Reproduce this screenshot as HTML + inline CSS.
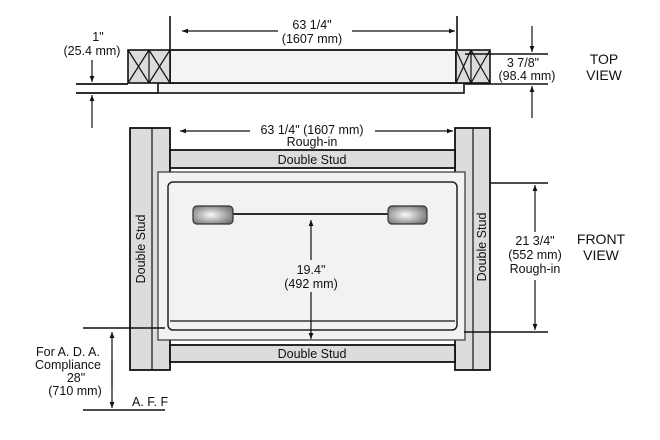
<!DOCTYPE html>
<html><head><meta charset="utf-8"><style>
html,body{margin:0;padding:0;background:#fff}
text{font-family:"Liberation Sans",Arial,sans-serif;fill:#111}
</style></head><body>
<svg width="660" height="435" viewBox="0 0 660 435" xmlns="http://www.w3.org/2000/svg">
<defs>
<marker id="a" viewBox="0 0 10 10" refX="10" refY="5" markerWidth="7" markerHeight="5" orient="auto-start-reverse"><path d="M0,1 L10,5 L0,9 Z" fill="#111"/></marker>
<radialGradient id="g" cx="0.45" cy="0.5" r="0.6"><stop offset="0" stop-color="#fafafa"/><stop offset="1" stop-color="#777"/></radialGradient>
</defs>
<g stroke="#111" fill="none" stroke-width="1.2">
<!-- TOP VIEW -->
<line x1="170" y1="16" x2="170" y2="49" stroke-width="1.6"/>
<line x1="457" y1="16" x2="457" y2="49" stroke-width="1.6"/>
<line x1="182" y1="31" x2="278" y2="31" marker-start="url(#a)"/>
<line x1="352" y1="31" x2="455" y2="31" marker-end="url(#a)"/>
<rect x="158" y="83" width="306" height="10" fill="#f4f4f4" stroke-width="1.6"/>
<rect x="170" y="50" width="286" height="33" fill="#f4f4f4" stroke-width="1.8"/>
<rect x="128" y="50" width="42" height="33" fill="#dcdcdc" stroke-width="1.6"/>
<line x1="149" y1="50" x2="149" y2="83"/>
<path d="M128,50 L149,83 M149,50 L128,83 M149,50 L170,83 M170,50 L149,83"/>
<rect x="456" y="50" width="34" height="33" fill="#dcdcdc" stroke-width="1.6"/>
<line x1="471" y1="50" x2="471" y2="83"/>
<path d="M456,50 L471,83 M471,50 L456,83 M471,50 L490,83 M490,50 L471,83"/>
<line x1="76" y1="84" x2="128" y2="84" stroke-width="1.8"/>
<line x1="76" y1="93" x2="158" y2="93" stroke-width="1.8"/>
<line x1="92" y1="60" x2="92" y2="82" marker-end="url(#a)"/>
<line x1="92" y1="128" x2="92" y2="95" marker-end="url(#a)"/>
<line x1="465" y1="54" x2="548" y2="54" stroke-width="1.6"/>
<line x1="465" y1="84" x2="548" y2="84" stroke-width="1.6"/>
<line x1="532" y1="26" x2="532" y2="52" marker-end="url(#a)"/>
<line x1="532" y1="118" x2="532" y2="86" marker-end="url(#a)"/>
<!-- FRONT VIEW -->
<rect x="130" y="128" width="40" height="242" fill="#dcdcdc" stroke-width="1.8"/>
<line x1="152" y1="128" x2="152" y2="370"/>
<rect x="455" y="128" width="35" height="242" fill="#dcdcdc" stroke-width="1.8"/>
<line x1="473" y1="128" x2="473" y2="370"/>
<rect x="170" y="150" width="285" height="18" fill="#dcdcdc" stroke-width="1.8"/>
<rect x="170" y="345" width="285" height="17" fill="#dcdcdc" stroke-width="1.8"/>
<rect x="158" y="172" width="307" height="168" fill="#f2f2f2" stroke="#333"/>
<rect x="168" y="182" width="289" height="148" rx="5" fill="#f2f2f2" stroke="#222" stroke-width="1.5"/>
<line x1="170" y1="321" x2="455" y2="321"/>
<line x1="233" y1="214" x2="388" y2="214" stroke-width="1.8"/>
<rect x="193" y="206" width="40" height="18" rx="4" fill="url(#g)" stroke="#333"/>
<rect x="388" y="206" width="39" height="18" rx="4" fill="url(#g)" stroke="#333"/>
<line x1="311" y1="260" x2="311" y2="220" marker-end="url(#a)"/>
<line x1="311" y1="292" x2="311" y2="339" marker-end="url(#a)"/>
<line x1="180" y1="131" x2="250" y2="131" marker-start="url(#a)"/>
<line x1="375" y1="131" x2="453" y2="131" marker-end="url(#a)"/>
<line x1="83" y1="328" x2="165" y2="328" stroke-width="1.6"/>
<line x1="83" y1="410" x2="165" y2="410" stroke-width="1.6"/>
<line x1="464" y1="332" x2="548" y2="332" stroke-width="1.6"/>
<line x1="490" y1="183" x2="548" y2="183" stroke-width="1.6"/>
<line x1="535" y1="232" x2="535" y2="185" marker-end="url(#a)"/>
<line x1="535" y1="280" x2="535" y2="330" marker-end="url(#a)"/>
<line x1="112" y1="386" x2="112" y2="332" marker-end="url(#a)"/>
<line x1="112" y1="360" x2="112" y2="408" marker-end="url(#a)"/>
</g>
<g font-size="12.5" text-anchor="middle">
<text x="312" y="29">63 1/4"</text>
<text x="312" y="43">(1607 mm)</text>
<text x="98" y="41">1"</text>
<text x="92" y="55">(25.4 mm)</text>
<text x="523" y="67">3 7/8"</text>
<text x="527" y="80">(98.4 mm)</text>
<text x="604" y="64" font-size="14">TOP</text>
<text x="604" y="80" font-size="14">VIEW</text>
<text x="312" y="134">63 1/4" (1607 mm)</text>
<text x="312" y="146">Rough-in</text>
<text x="312" y="164">Double Stud</text>
<text x="312" y="358">Double Stud</text>
<text x="311" y="274">19.4"</text>
<text x="311" y="288">(492 mm)</text>
<text x="535" y="245">21 3/4"</text>
<text x="535" y="259">(552 mm)</text>
<text x="535" y="273">Rough-in</text>
<text x="601" y="244" font-size="14">FRONT</text>
<text x="601" y="260" font-size="14">VIEW</text>
<text x="68" y="356">For A. D. A.</text>
<text x="68" y="369">Compliance</text>
<text x="76" y="382">28"</text>
<text x="75" y="395">(710 mm)</text>
<text x="132" y="406" text-anchor="start">A. F. F</text>
<text transform="translate(145,249) rotate(-90)">Double Stud</text>
<text transform="translate(486,247) rotate(-90)">Double Stud</text>
</g>
</svg>
</body></html>
